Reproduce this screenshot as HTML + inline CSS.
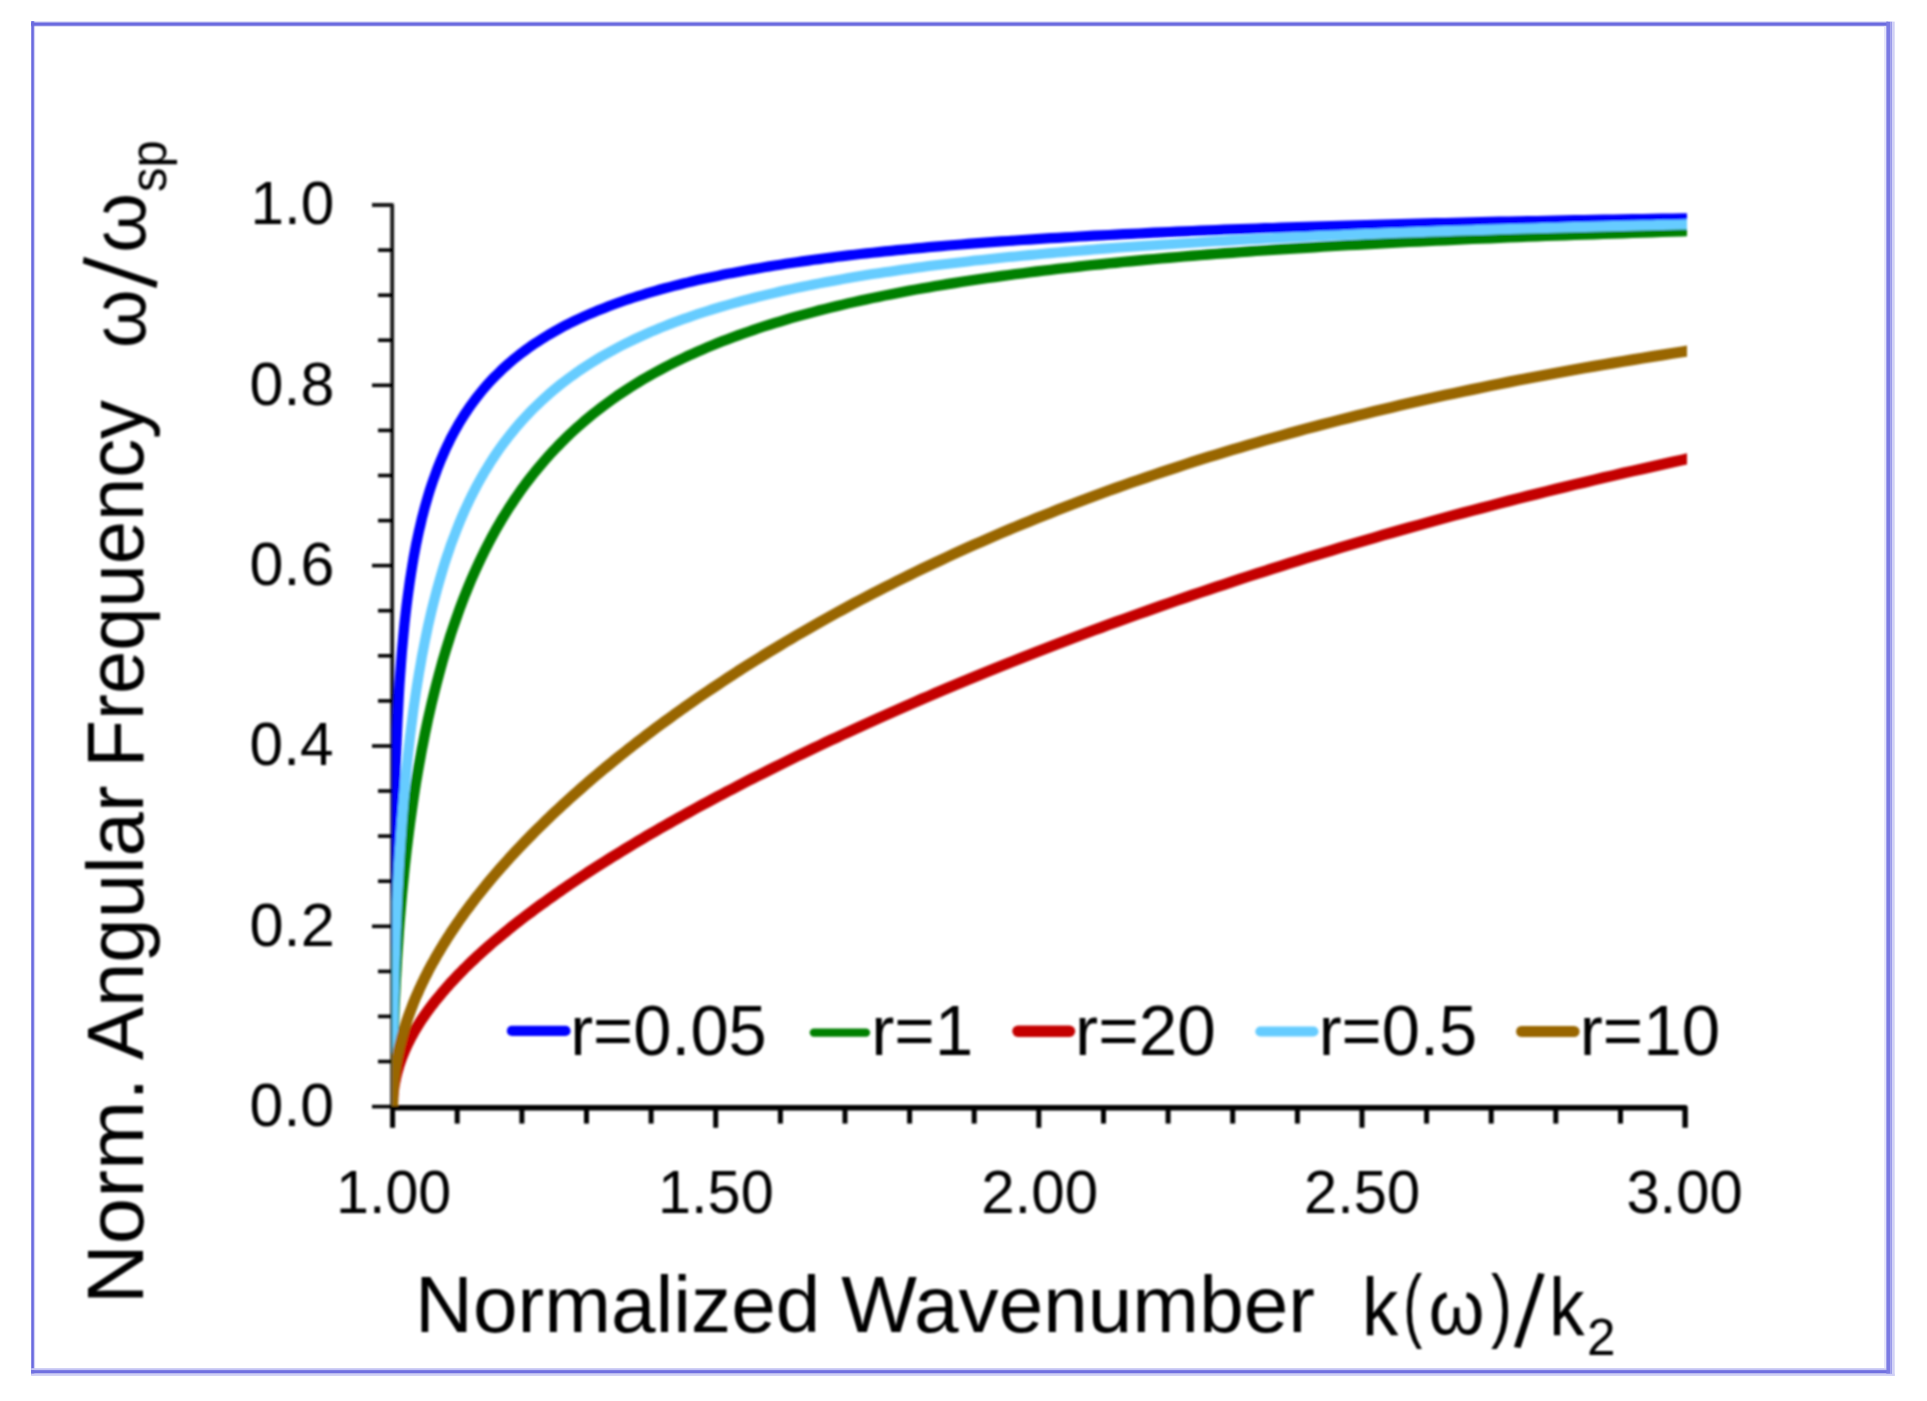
<!DOCTYPE html>
<html lang="en"><head><meta charset="utf-8"><title>Dispersion chart</title>
<style>html,body{margin:0;padding:0;background:#fff;}body{width:1927px;height:1401px;overflow:hidden;}svg{display:block;}text{font-family:"Liberation Sans", sans-serif;fill:#000;}</style>
</head><body>
<svg width="1927" height="1401" viewBox="0 0 1927 1401">
<defs><filter id="soft" x="-2%" y="-2%" width="104%" height="104%"><feGaussianBlur stdDeviation="1"/></filter></defs>
<rect x="0" y="0" width="1927" height="1401" fill="#ffffff"/>
<g id="frame">
<rect x='31.2' y='21.2' width='1857' height='5.6' fill='#6a6adf' opacity='0.28'/><rect x='31.2' y='22.5' width='1857' height='3.2' fill='#6a6adf'/><rect x='31.2' y='21.2' width='3.9' height='1354' fill='#6a6adf' opacity='0.3'/><rect x='31.3' y='21.2' width='2.5' height='1354' fill='#6a6adf'/><rect x='31.2' y='1368.2' width='1855.1' height='1.9' fill='#c5c5f3'/><rect x='31.2' y='1370.1' width='1859' height='3.5' fill='#7070e0'/><rect x='31.2' y='1373.6' width='1863.5' height='2.3' fill='#d0d0f5'/><rect x='1884' y='26.8' width='2.3' height='1341.4' fill='#e6e6fa'/><rect x='1886.3' y='21.6' width='3.9' height='1352' fill='#7b7be3'/><rect x='1890.2' y='21.6' width='2.0' height='1352.3' fill='#9b9bea'/><rect x='1892.2' y='21.6' width='2.5' height='1354.3' fill='#d0d0f5'/>
</g>
<g id="plot" filter="url(#soft)">
<g id="axes" stroke="#161616" fill="none">
<path d="M372.0 205.0 H392.2 V1107.8" stroke-width="3.80" stroke-linejoin="round"/>
<path d="M372.0 1106.6 H392.2" stroke="#000" stroke-width="3.60"/>
<path d="M378.0 1061.5 H392.2" stroke="#000" stroke-width="3.60"/>
<path d="M378.0 1016.4 H392.2" stroke="#000" stroke-width="3.60"/>
<path d="M378.0 971.4 H392.2" stroke="#000" stroke-width="3.60"/>
<path d="M372.0 926.3 H392.2" stroke="#000" stroke-width="3.60"/>
<path d="M378.0 881.2 H392.2" stroke="#000" stroke-width="3.60"/>
<path d="M378.0 836.1 H392.2" stroke="#000" stroke-width="3.60"/>
<path d="M378.0 791.0 H392.2" stroke="#000" stroke-width="3.60"/>
<path d="M372.0 746.0 H392.2" stroke="#000" stroke-width="3.60"/>
<path d="M378.0 700.9 H392.2" stroke="#000" stroke-width="3.60"/>
<path d="M378.0 655.8 H392.2" stroke="#000" stroke-width="3.60"/>
<path d="M378.0 610.7 H392.2" stroke="#000" stroke-width="3.60"/>
<path d="M372.0 565.6 H392.2" stroke="#000" stroke-width="3.60"/>
<path d="M378.0 520.6 H392.2" stroke="#000" stroke-width="3.60"/>
<path d="M378.0 475.5 H392.2" stroke="#000" stroke-width="3.60"/>
<path d="M378.0 430.4 H392.2" stroke="#000" stroke-width="3.60"/>
<path d="M372.0 385.3 H392.2" stroke="#000" stroke-width="3.60"/>
<path d="M378.0 340.2 H392.2" stroke="#000" stroke-width="3.60"/>
<path d="M378.0 295.2 H392.2" stroke="#000" stroke-width="3.60"/>
<path d="M378.0 250.1 H392.2" stroke="#000" stroke-width="3.60"/>
<path d="M392.2 1107.8 H1685.1 V1127.8" stroke="#000000" stroke-width="5.40" stroke-linejoin="round"/>
<path d="M392.6 1107.8 V1127.8" stroke="#000000" stroke-width="5.00"/>
<path d="M457.2 1107.8 V1123.6" stroke="#000000" stroke-width="5.00"/>
<path d="M521.9 1107.8 V1123.6" stroke="#000000" stroke-width="5.00"/>
<path d="M586.5 1107.8 V1123.6" stroke="#000000" stroke-width="5.00"/>
<path d="M651.1 1107.8 V1123.6" stroke="#000000" stroke-width="5.00"/>
<path d="M715.7 1107.8 V1127.8" stroke="#000000" stroke-width="5.00"/>
<path d="M780.4 1107.8 V1123.6" stroke="#000000" stroke-width="5.00"/>
<path d="M845.0 1107.8 V1123.6" stroke="#000000" stroke-width="5.00"/>
<path d="M909.6 1107.8 V1123.6" stroke="#000000" stroke-width="5.00"/>
<path d="M974.2 1107.8 V1123.6" stroke="#000000" stroke-width="5.00"/>
<path d="M1038.8 1107.8 V1127.8" stroke="#000000" stroke-width="5.00"/>
<path d="M1103.5 1107.8 V1123.6" stroke="#000000" stroke-width="5.00"/>
<path d="M1168.1 1107.8 V1123.6" stroke="#000000" stroke-width="5.00"/>
<path d="M1232.7 1107.8 V1123.6" stroke="#000000" stroke-width="5.00"/>
<path d="M1297.4 1107.8 V1123.6" stroke="#000000" stroke-width="5.00"/>
<path d="M1362.0 1107.8 V1127.8" stroke="#000000" stroke-width="5.00"/>
<path d="M1426.6 1107.8 V1123.6" stroke="#000000" stroke-width="5.00"/>
<path d="M1491.2 1107.8 V1123.6" stroke="#000000" stroke-width="5.00"/>
<path d="M1555.8 1107.8 V1123.6" stroke="#000000" stroke-width="5.00"/>
<path d="M1620.5 1107.8 V1123.6" stroke="#000000" stroke-width="5.00"/>
</g>
<clipPath id="plotclip"><rect x="392.2" y="150" width="1294.8" height="960.0"/></clipPath>
<g id="curves" clip-path="url(#plotclip)" fill="none" stroke-width="9.50" stroke-linejoin="round" stroke-linecap="butt">
<path d="M392.6 1105.9 L392.6 1062.4 L392.7 1021.7 L392.8 985.0 L392.9 952.4 L393.1 923.2 L393.3 897.0 L393.5 873.1 L393.8 851.2 L394.2 831.0 L394.5 812.2 L394.9 794.7 L395.4 778.2 L395.8 762.6 L396.4 747.9 L396.9 733.9 L397.5 720.5 L398.2 707.8 L398.8 695.7 L399.5 684.0 L400.3 672.8 L401.1 662.1 L401.9 651.7 L402.8 641.7 L403.7 632.1 L404.6 622.8 L405.6 613.8 L406.6 605.1 L407.7 596.7 L408.8 588.6 L409.9 580.7 L411.1 573.0 L412.3 565.5 L413.5 558.3 L414.8 551.3 L416.1 544.4 L417.5 537.8 L418.9 531.3 L420.4 525.0 L421.8 518.8 L423.4 512.8 L424.9 507.0 L426.5 501.3 L428.1 495.8 L429.8 490.3 L431.5 485.1 L433.3 479.9 L435.1 474.9 L436.9 469.9 L438.8 465.1 L440.7 460.4 L442.6 455.9 L444.6 451.4 L446.6 447.0 L448.7 442.7 L450.7 438.5 L452.9 434.4 L455.1 430.4 L457.3 426.5 L459.5 422.6 L461.8 418.9 L464.1 415.2 L466.5 411.6 L468.9 408.0 L471.3 404.6 L473.8 401.2 L476.3 397.9 L478.9 394.6 L481.5 391.4 L484.1 388.3 L486.8 385.2 L489.5 382.2 L492.2 379.3 L495.0 376.4 L497.9 373.6 L500.7 370.8 L503.6 368.1 L506.6 365.4 L509.5 362.8 L512.6 360.2 L515.6 357.7 L518.7 355.3 L521.8 352.8 L525.0 350.5 L528.2 348.1 L531.5 345.8 L534.8 343.6 L538.1 341.4 L541.5 339.2 L544.9 337.1 L548.3 335.0 L551.8 333.0 L555.3 331.0 L558.9 329.0 L562.4 327.1 L566.1 325.1 L569.7 323.3 L573.5 321.4 L577.2 319.6 L581.0 317.9 L584.8 316.1 L588.7 314.4 L592.6 312.8 L596.5 311.1 L600.5 309.5 L604.5 307.9 L608.6 306.3 L612.7 304.8 L616.8 303.3 L621.0 301.8 L625.2 300.3 L629.4 298.9 L633.7 297.5 L638.0 296.1 L642.4 294.8 L646.8 293.4 L651.2 292.1 L655.7 290.8 L660.2 289.5 L664.8 288.3 L669.4 287.1 L674.0 285.9 L678.7 284.7 L683.4 283.5 L688.2 282.4 L692.9 281.2 L697.8 280.1 L702.6 279.0 L707.5 278.0 L712.5 276.9 L717.5 275.9 L722.5 274.8 L727.5 273.8 L732.6 272.9 L737.7 271.9 L742.9 270.9 L748.1 270.0 L753.4 269.1 L758.7 268.2 L764.0 267.3 L769.3 266.4 L774.8 265.5 L780.2 264.7 L785.7 263.8 L791.2 263.0 L796.7 262.2 L802.3 261.4 L808.0 260.6 L813.6 259.8 L819.3 259.1 L825.1 258.3 L830.9 257.6 L836.7 256.8 L842.6 256.1 L848.5 255.4 L854.4 254.7 L860.4 254.0 L866.4 253.4 L872.5 252.7 L878.5 252.1 L884.7 251.4 L890.9 250.8 L897.1 250.2 L903.3 249.6 L909.6 249.0 L915.9 248.4 L922.3 247.8 L928.7 247.2 L935.1 246.6 L941.6 246.1 L948.1 245.5 L954.7 245.0 L961.3 244.5 L967.9 243.9 L974.6 243.4 L981.3 242.9 L988.0 242.4 L994.8 241.9 L1001.6 241.4 L1008.5 241.0 L1015.4 240.5 L1022.3 240.0 L1029.3 239.6 L1036.3 239.1 L1043.4 238.7 L1050.5 238.2 L1057.6 237.8 L1064.8 237.4 L1072.0 237.0 L1079.2 236.5 L1086.5 236.1 L1093.8 235.7 L1101.2 235.3 L1108.6 235.0 L1116.0 234.6 L1123.5 234.2 L1131.0 233.8 L1138.6 233.5 L1146.2 233.1 L1153.8 232.7 L1161.5 232.4 L1169.2 232.0 L1176.9 231.7 L1184.7 231.4 L1192.5 231.0 L1200.4 230.7 L1208.3 230.4 L1216.2 230.1 L1224.2 229.7 L1232.2 229.4 L1240.3 229.1 L1248.4 228.8 L1256.5 228.5 L1264.7 228.2 L1272.9 228.0 L1281.1 227.7 L1289.4 227.4 L1297.7 227.1 L1306.1 226.9 L1314.5 226.6 L1322.9 226.3 L1331.4 226.1 L1339.9 225.8 L1348.5 225.6 L1357.1 225.3 L1365.7 225.1 L1374.4 224.8 L1383.1 224.6 L1391.8 224.3 L1400.6 224.1 L1409.4 223.9 L1418.3 223.6 L1427.2 223.4 L1436.1 223.2 L1445.1 223.0 L1454.1 222.8 L1463.2 222.6 L1472.3 222.3 L1481.4 222.1 L1490.6 221.9 L1499.8 221.7 L1509.0 221.5 L1518.3 221.3 L1527.6 221.2 L1537.0 221.0 L1546.4 220.8 L1555.8 220.6 L1565.3 220.4 L1574.8 220.2 L1584.4 220.0 L1594.0 219.9 L1603.6 219.7 L1613.3 219.5 L1623.0 219.4 L1632.7 219.2 L1642.5 219.0 L1652.3 218.9 L1662.2 218.7 L1672.1 218.5 L1682.0 218.4 L1692.0 218.2" stroke="#0000ff" stroke-width="10.2"/>
<path d="M392.6 1105.9 L392.6 1096.1 L392.7 1086.2 L392.8 1076.4 L392.9 1066.6 L393.1 1056.8 L393.3 1047.0 L393.5 1037.2 L393.8 1027.5 L394.2 1017.8 L394.5 1008.1 L394.9 998.4 L395.4 988.8 L395.8 979.2 L396.4 969.6 L396.9 960.1 L397.5 950.6 L398.2 941.2 L398.8 931.8 L399.5 922.5 L400.3 913.2 L401.1 904.0 L401.9 894.8 L402.8 885.7 L403.7 876.7 L404.6 867.7 L405.6 858.8 L406.6 849.9 L407.7 841.1 L408.8 832.4 L409.9 823.8 L411.1 815.3 L412.3 806.8 L413.5 798.4 L414.8 790.0 L416.1 781.8 L417.5 773.6 L418.9 765.5 L420.4 757.5 L421.8 749.6 L423.4 741.8 L424.9 734.0 L426.5 726.4 L428.1 718.8 L429.8 711.3 L431.5 703.9 L433.3 696.5 L435.1 689.3 L436.9 682.2 L438.8 675.1 L440.7 668.1 L442.6 661.2 L444.6 654.4 L446.6 647.7 L448.7 641.1 L450.7 634.6 L452.9 628.1 L455.1 621.7 L457.3 615.5 L459.5 609.3 L461.8 603.2 L464.1 597.1 L466.5 591.2 L468.9 585.3 L471.3 579.6 L473.8 573.9 L476.3 568.3 L478.9 562.7 L481.5 557.3 L484.1 551.9 L486.8 546.6 L489.5 541.4 L492.2 536.3 L495.0 531.2 L497.9 526.2 L500.7 521.3 L503.6 516.5 L506.6 511.8 L509.5 507.1 L512.6 502.5 L515.6 497.9 L518.7 493.5 L521.8 489.1 L525.0 484.7 L528.2 480.5 L531.5 476.3 L534.8 472.1 L538.1 468.1 L541.5 464.1 L544.9 460.1 L548.3 456.3 L551.8 452.4 L555.3 448.7 L558.9 445.0 L562.4 441.4 L566.1 437.8 L569.7 434.3 L573.5 430.8 L577.2 427.4 L581.0 424.1 L584.8 420.8 L588.7 417.5 L592.6 414.3 L596.5 411.2 L600.5 408.1 L604.5 405.1 L608.6 402.1 L612.7 399.1 L616.8 396.2 L621.0 393.4 L625.2 390.6 L629.4 387.8 L633.7 385.1 L638.0 382.5 L642.4 379.8 L646.8 377.3 L651.2 374.7 L655.7 372.2 L660.2 369.8 L664.8 367.4 L669.4 365.0 L674.0 362.6 L678.7 360.3 L683.4 358.1 L688.2 355.8 L692.9 353.7 L697.8 351.5 L702.6 349.4 L707.5 347.3 L712.5 345.2 L717.5 343.2 L722.5 341.2 L727.5 339.3 L732.6 337.3 L737.7 335.5 L742.9 333.6 L748.1 331.8 L753.4 330.0 L758.7 328.2 L764.0 326.4 L769.3 324.7 L774.8 323.0 L780.2 321.4 L785.7 319.7 L791.2 318.1 L796.7 316.5 L802.3 315.0 L808.0 313.4 L813.6 311.9 L819.3 310.4 L825.1 309.0 L830.9 307.5 L836.7 306.1 L842.6 304.7 L848.5 303.3 L854.4 302.0 L860.4 300.6 L866.4 299.3 L872.5 298.0 L878.5 296.8 L884.7 295.5 L890.9 294.3 L897.1 293.1 L903.3 291.9 L909.6 290.7 L915.9 289.5 L922.3 288.4 L928.7 287.3 L935.1 286.2 L941.6 285.1 L948.1 284.0 L954.7 283.0 L961.3 281.9 L967.9 280.9 L974.6 279.9 L981.3 278.9 L988.0 277.9 L994.8 277.0 L1001.6 276.0 L1008.5 275.1 L1015.4 274.2 L1022.3 273.3 L1029.3 272.4 L1036.3 271.5 L1043.4 270.6 L1050.5 269.8 L1057.6 268.9 L1064.8 268.1 L1072.0 267.3 L1079.2 266.5 L1086.5 265.7 L1093.8 264.9 L1101.2 264.2 L1108.6 263.4 L1116.0 262.7 L1123.5 261.9 L1131.0 261.2 L1138.6 260.5 L1146.2 259.8 L1153.8 259.1 L1161.5 258.4 L1169.2 257.7 L1176.9 257.1 L1184.7 256.4 L1192.5 255.8 L1200.4 255.1 L1208.3 254.5 L1216.2 253.9 L1224.2 253.3 L1232.2 252.7 L1240.3 252.1 L1248.4 251.5 L1256.5 250.9 L1264.7 250.4 L1272.9 249.8 L1281.1 249.3 L1289.4 248.7 L1297.7 248.2 L1306.1 247.7 L1314.5 247.2 L1322.9 246.6 L1331.4 246.1 L1339.9 245.6 L1348.5 245.1 L1357.1 244.7 L1365.7 244.2 L1374.4 243.7 L1383.1 243.3 L1391.8 242.8 L1400.6 242.3 L1409.4 241.9 L1418.3 241.5 L1427.2 241.0 L1436.1 240.6 L1445.1 240.2 L1454.1 239.8 L1463.2 239.4 L1472.3 238.9 L1481.4 238.6 L1490.6 238.2 L1499.8 237.8 L1509.0 237.4 L1518.3 237.0 L1527.6 236.6 L1537.0 236.3 L1546.4 235.9 L1555.8 235.6 L1565.3 235.2 L1574.8 234.8 L1584.4 234.5 L1594.0 234.2 L1603.6 233.8 L1613.3 233.5 L1623.0 233.2 L1632.7 232.9 L1642.5 232.5 L1652.3 232.2 L1662.2 231.9 L1672.1 231.6 L1682.0 231.3 L1692.0 231.0" stroke="#008000" stroke-width="10.4"/>
<path d="M392.6 1105.9 L392.6 1103.7 L392.7 1101.5 L392.8 1099.3 L392.9 1097.1 L393.1 1094.9 L393.3 1092.7 L393.5 1090.5 L393.8 1088.3 L394.2 1086.1 L394.5 1083.9 L394.9 1081.7 L395.4 1079.5 L395.8 1077.3 L396.4 1075.1 L396.9 1072.9 L397.5 1070.7 L398.2 1068.5 L398.8 1066.2 L399.5 1064.0 L400.3 1061.8 L401.1 1059.6 L401.9 1057.4 L402.8 1055.2 L403.7 1052.9 L404.6 1050.7 L405.6 1048.5 L406.6 1046.3 L407.7 1044.0 L408.8 1041.8 L409.9 1039.6 L411.1 1037.3 L412.3 1035.1 L413.5 1032.9 L414.8 1030.6 L416.1 1028.4 L417.5 1026.1 L418.9 1023.9 L420.4 1021.6 L421.8 1019.4 L423.4 1017.1 L424.9 1014.9 L426.5 1012.6 L428.1 1010.3 L429.8 1008.1 L431.5 1005.8 L433.3 1003.5 L435.1 1001.2 L436.9 999.0 L438.8 996.7 L440.7 994.4 L442.6 992.1 L444.6 989.8 L446.6 987.5 L448.7 985.2 L450.7 982.9 L452.9 980.6 L455.1 978.2 L457.3 975.9 L459.5 973.6 L461.8 971.3 L464.1 968.9 L466.5 966.6 L468.9 964.3 L471.3 961.9 L473.8 959.6 L476.3 957.2 L478.9 954.9 L481.5 952.5 L484.1 950.1 L486.8 947.8 L489.5 945.4 L492.2 943.0 L495.0 940.6 L497.9 938.2 L500.7 935.9 L503.6 933.5 L506.6 931.1 L509.5 928.6 L512.6 926.2 L515.6 923.8 L518.7 921.4 L521.8 919.0 L525.0 916.5 L528.2 914.1 L531.5 911.7 L534.8 909.2 L538.1 906.8 L541.5 904.3 L544.9 901.9 L548.3 899.4 L551.8 896.9 L555.3 894.4 L558.9 892.0 L562.4 889.5 L566.1 887.0 L569.7 884.5 L573.5 882.0 L577.2 879.5 L581.0 877.0 L584.8 874.5 L588.7 871.9 L592.6 869.4 L596.5 866.9 L600.5 864.3 L604.5 861.8 L608.6 859.3 L612.7 856.7 L616.8 854.2 L621.0 851.6 L625.2 849.0 L629.4 846.5 L633.7 843.9 L638.0 841.3 L642.4 838.7 L646.8 836.1 L651.2 833.5 L655.7 830.9 L660.2 828.3 L664.8 825.7 L669.4 823.1 L674.0 820.5 L678.7 817.9 L683.4 815.3 L688.2 812.6 L692.9 810.0 L697.8 807.3 L702.6 804.7 L707.5 802.1 L712.5 799.4 L717.5 796.7 L722.5 794.1 L727.5 791.4 L732.6 788.8 L737.7 786.1 L742.9 783.4 L748.1 780.7 L753.4 778.0 L758.7 775.3 L764.0 772.7 L769.3 770.0 L774.8 767.3 L780.2 764.6 L785.7 761.9 L791.2 759.1 L796.7 756.4 L802.3 753.7 L808.0 751.0 L813.6 748.3 L819.3 745.6 L825.1 742.8 L830.9 740.1 L836.7 737.4 L842.6 734.6 L848.5 731.9 L854.4 729.2 L860.4 726.4 L866.4 723.7 L872.5 720.9 L878.5 718.2 L884.7 715.5 L890.9 712.7 L897.1 710.0 L903.3 707.2 L909.6 704.5 L915.9 701.7 L922.3 698.9 L928.7 696.2 L935.1 693.4 L941.6 690.7 L948.1 687.9 L954.7 685.2 L961.3 682.4 L967.9 679.7 L974.6 676.9 L981.3 674.1 L988.0 671.4 L994.8 668.6 L1001.6 665.9 L1008.5 663.1 L1015.4 660.4 L1022.3 657.6 L1029.3 654.9 L1036.3 652.1 L1043.4 649.4 L1050.5 646.6 L1057.6 643.9 L1064.8 641.1 L1072.0 638.4 L1079.2 635.7 L1086.5 632.9 L1093.8 630.2 L1101.2 627.5 L1108.6 624.7 L1116.0 622.0 L1123.5 619.3 L1131.0 616.6 L1138.6 613.9 L1146.2 611.2 L1153.8 608.5 L1161.5 605.8 L1169.2 603.1 L1176.9 600.4 L1184.7 597.7 L1192.5 595.0 L1200.4 592.4 L1208.3 589.7 L1216.2 587.0 L1224.2 584.4 L1232.2 581.7 L1240.3 579.1 L1248.4 576.4 L1256.5 573.8 L1264.7 571.2 L1272.9 568.5 L1281.1 565.9 L1289.4 563.3 L1297.7 560.7 L1306.1 558.1 L1314.5 555.5 L1322.9 553.0 L1331.4 550.4 L1339.9 547.8 L1348.5 545.3 L1357.1 542.7 L1365.7 540.2 L1374.4 537.7 L1383.1 535.1 L1391.8 532.6 L1400.6 530.1 L1409.4 527.6 L1418.3 525.2 L1427.2 522.7 L1436.1 520.2 L1445.1 517.8 L1454.1 515.3 L1463.2 512.9 L1472.3 510.5 L1481.4 508.1 L1490.6 505.7 L1499.8 503.3 L1509.0 500.9 L1518.3 498.5 L1527.6 496.2 L1537.0 493.8 L1546.4 491.5 L1555.8 489.2 L1565.3 486.8 L1574.8 484.5 L1584.4 482.3 L1594.0 480.0 L1603.6 477.7 L1613.3 475.5 L1623.0 473.2 L1632.7 471.0 L1642.5 468.8 L1652.3 466.6 L1662.2 464.4 L1672.1 462.2 L1682.0 460.0 L1692.0 457.9" stroke="#c40000" stroke-width="11.0"/>
<path d="M392.6 1105.9 L392.6 1092.0 L392.7 1078.1 L392.8 1064.2 L392.9 1050.4 L393.1 1036.7 L393.3 1023.0 L393.5 1009.3 L393.8 995.8 L394.2 982.4 L394.5 969.1 L394.9 955.9 L395.4 942.9 L395.8 930.0 L396.4 917.3 L396.9 904.7 L397.5 892.3 L398.2 880.0 L398.8 868.0 L399.5 856.1 L400.3 844.4 L401.1 832.8 L401.9 821.5 L402.8 810.3 L403.7 799.4 L404.6 788.6 L405.6 778.0 L406.6 767.6 L407.7 757.4 L408.8 747.4 L409.9 737.6 L411.1 727.9 L412.3 718.5 L413.5 709.2 L414.8 700.1 L416.1 691.2 L417.5 682.4 L418.9 673.8 L420.4 665.4 L421.8 657.1 L423.4 649.1 L424.9 641.1 L426.5 633.4 L428.1 625.7 L429.8 618.3 L431.5 611.0 L433.3 603.8 L435.1 596.7 L436.9 589.9 L438.8 583.1 L440.7 576.5 L442.6 570.0 L444.6 563.6 L446.6 557.4 L448.7 551.3 L450.7 545.3 L452.9 539.4 L455.1 533.7 L457.3 528.0 L459.5 522.5 L461.8 517.1 L464.1 511.7 L466.5 506.5 L468.9 501.4 L471.3 496.4 L473.8 491.5 L476.3 486.6 L478.9 481.9 L481.5 477.3 L484.1 472.7 L486.8 468.3 L489.5 463.9 L492.2 459.6 L495.0 455.4 L497.9 451.2 L500.7 447.2 L503.6 443.2 L506.6 439.3 L509.5 435.5 L512.6 431.7 L515.6 428.0 L518.7 424.4 L521.8 420.9 L525.0 417.4 L528.2 414.0 L531.5 410.6 L534.8 407.3 L538.1 404.1 L541.5 400.9 L544.9 397.8 L548.3 394.7 L551.8 391.7 L555.3 388.7 L558.9 385.8 L562.4 383.0 L566.1 380.2 L569.7 377.5 L573.5 374.8 L577.2 372.1 L581.0 369.5 L584.8 367.0 L588.7 364.5 L592.6 362.0 L596.5 359.6 L600.5 357.2 L604.5 354.9 L608.6 352.6 L612.7 350.3 L616.8 348.1 L621.0 345.9 L625.2 343.8 L629.4 341.7 L633.7 339.6 L638.0 337.6 L642.4 335.6 L646.8 333.6 L651.2 331.7 L655.7 329.8 L660.2 327.9 L664.8 326.1 L669.4 324.3 L674.0 322.5 L678.7 320.8 L683.4 319.1 L688.2 317.4 L692.9 315.8 L697.8 314.1 L702.6 312.5 L707.5 311.0 L712.5 309.4 L717.5 307.9 L722.5 306.4 L727.5 305.0 L732.6 303.5 L737.7 302.1 L742.9 300.7 L748.1 299.3 L753.4 298.0 L758.7 296.6 L764.0 295.3 L769.3 294.1 L774.8 292.8 L780.2 291.5 L785.7 290.3 L791.2 289.1 L796.7 287.9 L802.3 286.8 L808.0 285.6 L813.6 284.5 L819.3 283.4 L825.1 282.3 L830.9 281.2 L836.7 280.2 L842.6 279.1 L848.5 278.1 L854.4 277.1 L860.4 276.1 L866.4 275.1 L872.5 274.1 L878.5 273.2 L884.7 272.3 L890.9 271.4 L897.1 270.5 L903.3 269.6 L909.6 268.7 L915.9 267.8 L922.3 267.0 L928.7 266.1 L935.1 265.3 L941.6 264.5 L948.1 263.7 L954.7 262.9 L961.3 262.2 L967.9 261.4 L974.6 260.6 L981.3 259.9 L988.0 259.2 L994.8 258.5 L1001.6 257.8 L1008.5 257.1 L1015.4 256.4 L1022.3 255.7 L1029.3 255.1 L1036.3 254.4 L1043.4 253.8 L1050.5 253.1 L1057.6 252.5 L1064.8 251.9 L1072.0 251.3 L1079.2 250.7 L1086.5 250.1 L1093.8 249.5 L1101.2 248.9 L1108.6 248.4 L1116.0 247.8 L1123.5 247.3 L1131.0 246.7 L1138.6 246.2 L1146.2 245.7 L1153.8 245.2 L1161.5 244.7 L1169.2 244.2 L1176.9 243.7 L1184.7 243.2 L1192.5 242.7 L1200.4 242.2 L1208.3 241.8 L1216.2 241.3 L1224.2 240.9 L1232.2 240.4 L1240.3 240.0 L1248.4 239.5 L1256.5 239.1 L1264.7 238.7 L1272.9 238.3 L1281.1 237.9 L1289.4 237.5 L1297.7 237.1 L1306.1 236.7 L1314.5 236.3 L1322.9 235.9 L1331.4 235.5 L1339.9 235.2 L1348.5 234.8 L1357.1 234.4 L1365.7 234.1 L1374.4 233.7 L1383.1 233.4 L1391.8 233.0 L1400.6 232.7 L1409.4 232.4 L1418.3 232.1 L1427.2 231.7 L1436.1 231.4 L1445.1 231.1 L1454.1 230.8 L1463.2 230.5 L1472.3 230.2 L1481.4 229.9 L1490.6 229.6 L1499.8 229.3 L1509.0 229.0 L1518.3 228.7 L1527.6 228.5 L1537.0 228.2 L1546.4 227.9 L1555.8 227.7 L1565.3 227.4 L1574.8 227.1 L1584.4 226.9 L1594.0 226.6 L1603.6 226.4 L1613.3 226.1 L1623.0 225.9 L1632.7 225.6 L1642.5 225.4 L1652.3 225.2 L1662.2 224.9 L1672.1 224.7 L1682.0 224.5 L1692.0 224.3" stroke="#66ccff" stroke-width="10.1"/>
<path d="M392.6 1105.9 L392.6 1102.8 L392.7 1099.7 L392.8 1096.6 L392.9 1093.5 L393.1 1090.3 L393.3 1087.2 L393.5 1084.1 L393.8 1081.0 L394.2 1077.9 L394.5 1074.8 L394.9 1071.7 L395.4 1068.6 L395.8 1065.4 L396.4 1062.3 L396.9 1059.2 L397.5 1056.1 L398.2 1053.0 L398.8 1049.8 L399.5 1046.7 L400.3 1043.6 L401.1 1040.5 L401.9 1037.3 L402.8 1034.2 L403.7 1031.1 L404.6 1028.0 L405.6 1024.8 L406.6 1021.7 L407.7 1018.5 L408.8 1015.4 L409.9 1012.3 L411.1 1009.1 L412.3 1006.0 L413.5 1002.8 L414.8 999.7 L416.1 996.5 L417.5 993.4 L418.9 990.2 L420.4 987.0 L421.8 983.9 L423.4 980.7 L424.9 977.5 L426.5 974.4 L428.1 971.2 L429.8 968.0 L431.5 964.8 L433.3 961.7 L435.1 958.5 L436.9 955.3 L438.8 952.1 L440.7 948.9 L442.6 945.7 L444.6 942.5 L446.6 939.3 L448.7 936.1 L450.7 932.9 L452.9 929.6 L455.1 926.4 L457.3 923.2 L459.5 920.0 L461.8 916.8 L464.1 913.5 L466.5 910.3 L468.9 907.1 L471.3 903.8 L473.8 900.6 L476.3 897.3 L478.9 894.1 L481.5 890.8 L484.1 887.6 L486.8 884.3 L489.5 881.0 L492.2 877.8 L495.0 874.5 L497.9 871.2 L500.7 867.9 L503.6 864.7 L506.6 861.4 L509.5 858.1 L512.6 854.8 L515.6 851.5 L518.7 848.2 L521.8 844.9 L525.0 841.6 L528.2 838.3 L531.5 835.0 L534.8 831.7 L538.1 828.4 L541.5 825.1 L544.9 821.8 L548.3 818.4 L551.8 815.1 L555.3 811.8 L558.9 808.5 L562.4 805.1 L566.1 801.8 L569.7 798.5 L573.5 795.1 L577.2 791.8 L581.0 788.5 L584.8 785.1 L588.7 781.8 L592.6 778.4 L596.5 775.1 L600.5 771.8 L604.5 768.4 L608.6 765.1 L612.7 761.7 L616.8 758.4 L621.0 755.0 L625.2 751.7 L629.4 748.3 L633.7 745.0 L638.0 741.6 L642.4 738.3 L646.8 734.9 L651.2 731.6 L655.7 728.2 L660.2 724.9 L664.8 721.5 L669.4 718.2 L674.0 714.8 L678.7 711.5 L683.4 708.1 L688.2 704.8 L692.9 701.5 L697.8 698.1 L702.6 694.8 L707.5 691.5 L712.5 688.1 L717.5 684.8 L722.5 681.5 L727.5 678.2 L732.6 674.9 L737.7 671.5 L742.9 668.2 L748.1 664.9 L753.4 661.6 L758.7 658.3 L764.0 655.0 L769.3 651.8 L774.8 648.5 L780.2 645.2 L785.7 641.9 L791.2 638.7 L796.7 635.4 L802.3 632.2 L808.0 628.9 L813.6 625.7 L819.3 622.4 L825.1 619.2 L830.9 616.0 L836.7 612.8 L842.6 609.6 L848.5 606.4 L854.4 603.2 L860.4 600.0 L866.4 596.9 L872.5 593.7 L878.5 590.6 L884.7 587.4 L890.9 584.3 L897.1 581.2 L903.3 578.1 L909.6 575.0 L915.9 571.9 L922.3 568.8 L928.7 565.8 L935.1 562.7 L941.6 559.7 L948.1 556.6 L954.7 553.6 L961.3 550.6 L967.9 547.6 L974.6 544.6 L981.3 541.7 L988.0 538.7 L994.8 535.8 L1001.6 532.8 L1008.5 529.9 L1015.4 527.0 L1022.3 524.1 L1029.3 521.3 L1036.3 518.4 L1043.4 515.6 L1050.5 512.8 L1057.6 509.9 L1064.8 507.1 L1072.0 504.4 L1079.2 501.6 L1086.5 498.9 L1093.8 496.1 L1101.2 493.4 L1108.6 490.7 L1116.0 488.0 L1123.5 485.4 L1131.0 482.7 L1138.6 480.1 L1146.2 477.5 L1153.8 474.9 L1161.5 472.3 L1169.2 469.7 L1176.9 467.2 L1184.7 464.6 L1192.5 462.1 L1200.4 459.6 L1208.3 457.1 L1216.2 454.7 L1224.2 452.2 L1232.2 449.8 L1240.3 447.4 L1248.4 445.0 L1256.5 442.7 L1264.7 440.3 L1272.9 438.0 L1281.1 435.7 L1289.4 433.4 L1297.7 431.1 L1306.1 428.8 L1314.5 426.6 L1322.9 424.4 L1331.4 422.2 L1339.9 420.0 L1348.5 417.8 L1357.1 415.7 L1365.7 413.6 L1374.4 411.4 L1383.1 409.4 L1391.8 407.3 L1400.6 405.2 L1409.4 403.2 L1418.3 401.2 L1427.2 399.2 L1436.1 397.2 L1445.1 395.2 L1454.1 393.3 L1463.2 391.4 L1472.3 389.5 L1481.4 387.6 L1490.6 385.7 L1499.8 383.8 L1509.0 382.0 L1518.3 380.2 L1527.6 378.4 L1537.0 376.6 L1546.4 374.8 L1555.8 373.1 L1565.3 371.4 L1574.8 369.6 L1584.4 367.9 L1594.0 366.3 L1603.6 364.6 L1613.3 363.0 L1623.0 361.3 L1632.7 359.7 L1642.5 358.1 L1652.3 356.5 L1662.2 355.0 L1672.1 353.4 L1682.0 351.9 L1692.0 350.4" stroke="#996600" stroke-width="11.0"/>
</g>
<g id="legend-lines" stroke-linecap="round">
<path d="M511.9 1030.9 H565.5" stroke="#0000ff" stroke-width="10.2"/>
<path d="M813.8 1032.6 H866.0" stroke="#008000" stroke-width="8.3"/>
<path d="M1018.0 1031.3 H1069.5" stroke="#c40000" stroke-width="11.4"/>
<path d="M1260.4 1031.5 H1313.4" stroke="#66ccff" stroke-width="10.2"/>
<path d="M1521.6 1031.5 H1574.1" stroke="#996600" stroke-width="11.0"/>
</g>
<g id="labels">
<text x="250.6" y="224.3" font-size="62.00" textLength="83.8" lengthAdjust="spacingAndGlyphs">1.0</text>
<text x="249.6" y="404.6" font-size="62.00" textLength="84.8" lengthAdjust="spacingAndGlyphs">0.8</text>
<text x="249.6" y="584.9" font-size="62.00" textLength="84.8" lengthAdjust="spacingAndGlyphs">0.6</text>
<text x="249.6" y="765.3" font-size="62.00" textLength="83.9" lengthAdjust="spacingAndGlyphs">0.4</text>
<text x="249.5" y="945.6" font-size="62.00" textLength="85.3" lengthAdjust="spacingAndGlyphs">0.2</text>
<text x="249.6" y="1125.9" font-size="62.00" textLength="84.5" lengthAdjust="spacingAndGlyphs">0.0</text>
<text x="336.0" y="1212.6" font-size="62.00" textLength="115.3" lengthAdjust="spacingAndGlyphs">1.00</text>
<text x="658.0" y="1212.6" font-size="62.00" textLength="115.7" lengthAdjust="spacingAndGlyphs">1.50</text>
<text x="981.2" y="1212.6" font-size="62.00" textLength="116.9" lengthAdjust="spacingAndGlyphs">2.00</text>
<text x="1304.0" y="1212.6" font-size="62.00" textLength="116.1" lengthAdjust="spacingAndGlyphs">2.50</text>
<text x="1626.4" y="1212.6" font-size="62.00" textLength="116.3" lengthAdjust="spacingAndGlyphs">3.00</text>
<text x="570.2" y="1054.5" font-size="70.50" textLength="196.6" lengthAdjust="spacingAndGlyphs">r=0.05</text>
<text x="871.2" y="1054.5" font-size="70.50" textLength="102.0" lengthAdjust="spacingAndGlyphs">r=1</text>
<text x="1075.1" y="1054.5" font-size="70.50" textLength="140.7" lengthAdjust="spacingAndGlyphs">r=20</text>
<text x="1318.7" y="1054.5" font-size="70.50" textLength="158.5" lengthAdjust="spacingAndGlyphs">r=0.5</text>
<text x="1579.8" y="1054.5" font-size="70.50" textLength="140.3" lengthAdjust="spacingAndGlyphs">r=10</text>
<text id="x-title" font-size="79"><tspan x="415.0" y="1332.3" font-size="79.00" textLength="405.3" lengthAdjust="spacingAndGlyphs">Normalized</tspan> <tspan x="841.3" y="1332.3" font-size="79.00" textLength="473.7" lengthAdjust="spacingAndGlyphs">Wavenumber</tspan>  <tspan x="1362.1" y="1334.6" font-size="82.00" textLength="36.4" lengthAdjust="spacingAndGlyphs">k</tspan><tspan x="1403.2" y="1332.3" font-size="82.00" textLength="19.0" lengthAdjust="spacingAndGlyphs">(</tspan><tspan x="1428.8" y="1334.3" font-size="77.00" textLength="55.7" lengthAdjust="spacingAndGlyphs">ω</tspan><tspan x="1491.0" y="1332.3" font-size="82.00" textLength="20.9" lengthAdjust="spacingAndGlyphs">)</tspan><tspan x="1514.0" y="1345.9" font-size="105.00" textLength="23.5" lengthAdjust="spacingAndGlyphs" rotate="6.90">/</tspan><tspan x="1549.2" y="1334.9" font-size="82.00" textLength="35.3" lengthAdjust="spacingAndGlyphs">k</tspan><tspan x="1586.9" y="1355.3" font-size="52.00" textLength="28.5" lengthAdjust="spacingAndGlyphs">2</tspan></text>
<text id="y-title" font-size="79" transform="rotate(-90)"><tspan x="-1304.3" y="142.7" font-size="79.00" textLength="226.7" lengthAdjust="spacingAndGlyphs">Norm.</tspan> <tspan x="-1060.0" y="142.7" font-size="79.00" textLength="274.4" lengthAdjust="spacingAndGlyphs">Angular</tspan> <tspan x="-767.4" y="142.7" font-size="79.00" textLength="367.3" lengthAdjust="spacingAndGlyphs">Frequency</tspan>  <tspan x="-347.9" y="144.9" font-size="77.00" textLength="58.6" lengthAdjust="spacingAndGlyphs">ω</tspan><tspan x="-288.1" y="155.5" font-size="105.00" textLength="23.5" lengthAdjust="spacingAndGlyphs" rotate="7.40">/</tspan><tspan x="-252.7" y="144.9" font-size="77.00" textLength="59.8" lengthAdjust="spacingAndGlyphs">ω</tspan><tspan x="-192.0" y="166.0" font-size="52.00" textLength="51.6" lengthAdjust="spacingAndGlyphs">sp</tspan></text>
</g>
</g>
</svg></body></html>
